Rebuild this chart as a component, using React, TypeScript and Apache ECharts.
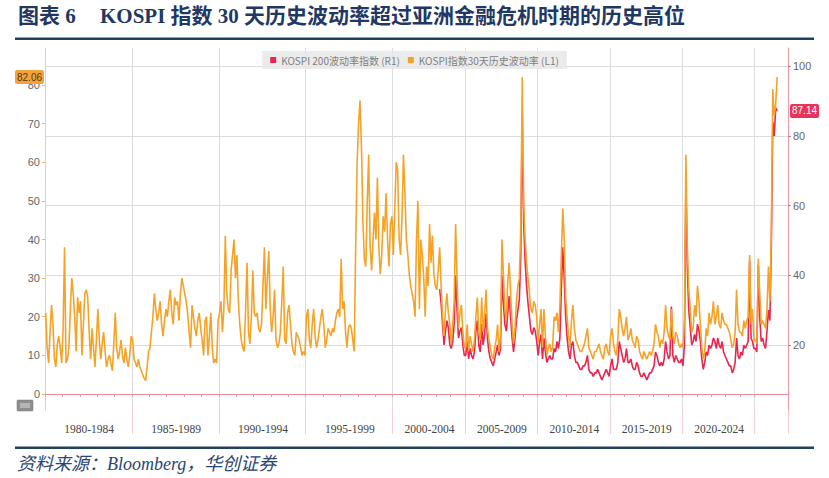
import React, { useEffect, useRef } from 'react';
import * as echarts from 'echarts';

// ---- texts ----
const titleLead = '图表 6';
const titleMain = 'KOSPI 指数 30 天历史波动率超过亚洲金融危机时期的历史高位';
const sourceNote = '资料来源：Bloomberg，华创证券';
const legendNames = ['KOSPI 200波动率指数 (R1)', 'KOSPI指数30天历史波动率 (L1)'];
const periodLabels = ['1980-1984', '1985-1989', '1990-1994', '1995-1999', '2000-2004', '2005-2009', '2010-2014', '2015-2019', '2020-2024'];
const leftAxisTicks = [0, 10, 20, 30, 40, 50, 60, 70, 80];
const rightAxisTicks = [20, 40, 60, 80, 100];

// ---- KOSPI 30-day historical volatility (left axis, L1) ----
// 1980-1999: 12 samples / year (six-day trading weeks), 2000 onward: 10 samples / year
const kospiVol1980s = [
  21, 12, 8, 16, 23, 18, 9, 7, 13, 15, 12, 8,
  17, 38, 8, 9, 12, 22, 30, 26, 20, 11, 25, 21,
  24, 10, 18, 26, 27, 25, 16, 9, 17, 12, 7, 14,
  22, 14, 9, 13, 16, 11, 7, 9, 10, 8, 6, 13,
  21, 12, 9, 11, 14, 10, 8, 12, 9, 7, 10, 15,
  14, 9, 8, 7, 9, 7, 6, 5, 4, 3.5, 7, 11,
  12, 16, 20, 26, 22, 19, 21, 24, 18, 15, 19, 22,
  20, 24, 27, 21, 18, 25, 23, 24, 19, 26, 30, 28,
  26, 24, 21, 16, 12, 23, 20, 17, 15, 19, 21, 17,
  14, 10, 19, 20, 10, 15, 21, 12, 8, 9, 8, 19,
];
const kospiVol1990s = [
  21, 24, 16, 22, 41, 26, 22, 21, 32, 36, 40, 30,
  36, 24, 18, 14, 12, 11, 22, 34, 16, 13, 20, 32,
  21, 20, 21, 17, 16, 18, 28, 38, 22, 30, 37, 22,
  16, 20, 27, 14, 12, 13, 16, 24, 33, 14, 13, 21,
  23, 18, 13, 11, 10, 16, 15, 14, 12, 10, 11, 10,
  20, 22, 14, 12, 18, 22, 15, 12, 14, 17, 20, 22,
  18, 12, 14, 17, 16, 15, 17, 16, 19, 21, 22, 20,
  35, 22, 24, 16, 12, 17, 18, 17, 14, 11, 38, 60,
  70, 76, 64, 45, 35, 33, 50, 62, 38, 32, 40, 47,
  40, 56, 38, 31, 36, 46, 42, 52, 40, 33, 44, 46,
];
const kospiVol2000s = [
  36, 48, 60, 58, 40, 36, 46, 62, 52, 40,
  36, 31, 28, 26, 24, 20, 40, 50, 22, 40,
  36, 30, 20, 33, 28, 44, 34, 41, 31, 28,
  27, 32, 38, 28, 20, 15, 22, 26, 21, 18,
  13, 18, 24, 44, 30, 17, 21, 23, 16, 12,
  12, 18, 11, 15, 13, 11, 14, 20, 25, 16,
  14, 25, 16, 20, 27, 17, 14, 12, 10, 9,
  12, 14, 18, 11, 15, 40, 31, 22, 19, 29,
  34, 26, 18, 13, 17, 24, 28, 30, 43, 82,
  50, 40, 34, 30, 26, 22, 21, 24, 23, 20,
];
const kospiVol2010s = [
  13, 18, 22, 12, 22, 15, 10, 12, 13, 11,
  12, 20, 19, 21, 16, 23, 36, 48, 40, 25,
  20, 15, 12, 19, 23, 17, 14, 13, 12, 11,
  11, 12, 13, 15, 17, 12, 11, 10, 9, 11,
  11, 12, 13, 11, 10, 9, 12, 13, 11, 10,
  15, 17, 13, 11, 10, 14, 22, 20, 17, 15,
  17, 20, 14, 15, 17, 14, 13, 12, 15, 14,
  11, 10, 9, 11, 10, 9, 10, 11, 10, 11,
  13, 18, 16, 15, 12, 14, 13, 16, 23, 17,
  15, 14, 22, 15, 13, 16, 15, 13, 12, 13,
];
const kospiVol2020s = [
  12, 19, 62, 38, 27, 22, 16, 17, 23, 20,
  28, 24, 18, 12, 9, 11, 17, 15, 21, 18,
  20, 24, 18, 20, 23, 18, 17, 21, 19, 18,
  18, 17, 16, 14, 12, 13, 16, 27, 18, 16,
  16, 15, 19, 17, 19, 20, 36, 18, 22, 14,
];
const kospiVol2025on = [14, 13, 35, 26, 18, 19, 18, 17, 22, 33, 24, 42, 79, 72, 75, 82.06];

// ---- KOSPI 200 volatility index (right axis, R1), from 2003 ----
const vkospi2003to2009 = [
  null, null, 36, 32, 26, 20, 24, 27, 25, 20,
  19, 21, 26, 40, 30, 22, 24, 25, 20, 17,
  17, 21, 16, 19, 17, 16, 18, 24, 27, 20,
  18, 26, 20, 23, 29, 22, 18, 16, 15, 14,
  16, 18, 20, 17, 19, 40, 32, 26, 24, 29,
  34, 28, 22, 18, 22, 27, 30, 33, 46, 86,
  55, 44, 37, 32, 28, 24, 23, 25, 24, 21,
];
const vkospi2010s = [
  17, 21, 23, 16, 22, 18, 15, 16, 17, 16,
  16, 19, 18, 21, 19, 22, 36, 48, 39, 28,
  22, 18, 16, 20, 21, 17, 15, 15, 14, 13,
  13, 14, 14, 15, 17, 13, 12, 12, 11, 12,
  12, 13, 12, 11, 10, 11, 12, 13, 12, 11,
  14, 16, 13, 13, 13, 15, 21, 19, 17, 15,
  16, 19, 15, 15, 16, 14, 13, 13, 15, 14,
  12, 11, 11, 12, 11, 10, 11, 12, 12, 13,
  14, 18, 17, 15, 14, 15, 14, 16, 21, 18,
  16, 17, 31, 17, 15, 17, 16, 15, 15, 16,
];
const vkospi2020s = [
  14, 20, 66, 42, 30, 25, 20, 21, 23, 21,
  26, 24, 21, 16, 13, 15, 18, 17, 20, 19,
  20, 22, 21, 19, 22, 20, 19, 21, 18, 17,
  16, 15, 14, 14, 12, 13, 15, 22, 17, 16,
  18, 17, 20, 19, 20, 21, 44, 22, 21, 19,
];
const vkospi2025on = [19, 18, 43, 28, 21, 22, 20, 19, 24, 30, 27, 49, 84, 80, 88, 87.14];

// ---- category axis (one slot per sample) ----
const categories: string[] = [];
const yearStart: Record<number, number> = {};
for (let y = 1980; y <= 2024; y++) {
  yearStart[y] = categories.length;
  const n = y < 2000 ? 12 : 10;
  for (let k = 1; k <= n; k++) categories.push(`${y}-${String(k).padStart(2, '0')}`);
}
yearStart[2025] = categories.length;
for (let k = 1; k <= 23; k++) categories.push(`2025+${k}`);

const periodStarts = periodLabels.map((_, i) => yearStart[1980 + 5 * i]);
const periodEnds = periodLabels.map((_, i) => yearStart[1985 + 5 * i]);
const boundarySet = new Set<number>(periodEnds);
const labelAt = new Map<number, string>(periodStarts.map((s, i) => [Math.floor((s + periodEnds[i]) / 2), periodLabels[i]]));
const yearTickSet = new Set<number>(Object.values(yearStart));

const orangeData = [...kospiVol1980s, ...kospiVol1990s, ...kospiVol2000s, ...kospiVol2010s, ...kospiVol2020s, ...kospiVol2025on];
const redData: (number | null)[] = new Array(yearStart[2003]).fill(null).concat(vkospi2003to2009, vkospi2010s, vkospi2020s, vkospi2025on);
const lastOrange = kospiVol2025on[kospiVol2025on.length - 1];
const lastRed = vkospi2025on[vkospi2025on.length - 1];

const ORANGE = '#f5a328';
const RED = '#e8264f';
const NAVY = '#1f3864';

export default function App() {
  const ref = useRef<HTMLDivElement>(null);
  useEffect(() => {
    if (!ref.current) return;
    const chart = echarts.init(ref.current, null, { renderer: 'svg' });
    chart.setOption({
      animation: false,
      backgroundColor: '#ffffff',
      textStyle: { fontFamily: '"Liberation Sans", "Noto Sans CJK SC", sans-serif' },
      grid: { left: 45, right: 41, top: 48, bottom: 68, containLabel: false },
      legend: {
        data: legendNames,
        top: 51,
        left: 'center',
        icon: 'rect',
        itemWidth: 6,
        itemHeight: 6,
        itemGap: 8,
        padding: [4, 8],
        backgroundColor: 'rgba(232,232,232,0.85)',
        textStyle: { fontSize: 10, color: '#808080', fontFamily: '"Noto Sans CJK SC", sans-serif' },
      },
      xAxis: [
        {
          type: 'category',
          data: categories,
          boundaryGap: true,
          position: 'bottom',
          axisLine: { show: true, lineStyle: { color: '#ea8a99', width: 1 } },
          axisTick: { show: true, interval: (i: number) => yearTickSet.has(i), length: 3, lineStyle: { color: '#d8a3ab' } },
          axisLabel: {
            show: true,
            interval: (i: number) => labelAt.has(i),
            formatter: (_v: string, i: number) => labelAt.get(i) ?? '',
            margin: 13,
            fontSize: 11.5,
            color: '#444',
            fontFamily: '"Liberation Serif", serif',
          },
          splitLine: { show: true, interval: (i: number) => boundarySet.has(i), lineStyle: { color: '#dcdcdc', width: 1 } },
        },
        {
          type: 'category',
          data: categories,
          boundaryGap: true,
          position: 'bottom',
          axisLine: { show: false },
          axisTick: { show: true, interval: (i: number) => boundarySet.has(i), length: 24, lineStyle: { color: '#f1cfd4' } },
          axisLabel: { show: false },
          splitLine: { show: false },
        },
      ],
      yAxis: [
        {
          type: 'value',
          position: 'left',
          min: -4.15,
          max: 89.6,
          axisLine: { show: true, lineStyle: { color: '#f6cf8c' } },
          axisTick: { show: true, customValues: leftAxisTicks, length: 3, lineStyle: { color: '#f0b860' } },
          axisLabel: { customValues: leftAxisTicks, color: '#666', fontSize: 11, margin: 5 },
          splitLine: { show: false },
          axisPointer: {
            show: true,
            type: 'line',
            value: lastOrange,
            status: 'show',
            triggerTooltip: false,
            lineStyle: { opacity: 0, width: 0 },
            label: {
              show: true,
              formatter: (p: any) => Number(p.value).toFixed(2),
              backgroundColor: '#f2a33a',
              color: '#5a3a10',
              fontSize: 10,
              padding: [2, 2, 2, 2],
              borderRadius: 2,
              margin: 1,
            },
          },
        },
        {
          type: 'value',
          position: 'right',
          min: 1.35,
          max: 105.2,
          axisLine: { show: true, lineStyle: { color: '#ec9aa8' } },
          axisTick: { show: true, customValues: rightAxisTicks, length: 3, lineStyle: { color: '#e0707f' } },
          axisLabel: { customValues: rightAxisTicks, color: '#666', fontSize: 11, margin: 5 },
          splitLine: { show: true, lineStyle: { color: '#dcdcdc', width: 1 } },
          axisPointer: {
            show: true,
            type: 'line',
            value: lastRed,
            status: 'show',
            triggerTooltip: false,
            lineStyle: { opacity: 0, width: 0 },
            label: {
              show: true,
              formatter: (p: any) => Number(p.value).toFixed(2),
              backgroundColor: '#e8335a',
              color: '#ffffff',
              fontSize: 10,
              padding: [2, 2, 2, 2],
              borderRadius: 2,
              margin: 2,
            },
          },
        },
      ],
      series: [
        {
          name: legendNames[0],
          type: 'line',
          xAxisIndex: 0,
          yAxisIndex: 1,
          data: redData,
          showSymbol: false,
          symbol: 'none',
          connectNulls: false,
          lineStyle: { color: RED, width: 1.6 },
          itemStyle: { color: RED },
          z: 2,
          silent: true,
        },
        {
          name: legendNames[1],
          type: 'line',
          xAxisIndex: 0,
          yAxisIndex: 0,
          data: orangeData,
          showSymbol: false,
          symbol: 'none',
          lineStyle: { color: ORANGE, width: 1.6 },
          itemStyle: { color: ORANGE },
          z: 3,
          silent: true,
        },
      ],
      graphic: [
        {
          type: 'text',
          x: 18,
          y: 16,
          style: { text: titleLead, fill: NAVY, font: 'bold 21px "Liberation Serif", "Noto Sans CJK SC", serif', verticalAlign: 'middle' },
        },
        {
          type: 'text',
          x: 100,
          y: 16,
          style: { text: titleMain, fill: NAVY, font: 'bold 21px "Liberation Serif", "Noto Sans CJK SC", serif', verticalAlign: 'middle' },
        },
        { type: 'rect', shape: { x: 15, y: 37.5, width: 799, height: 2.5 }, style: { fill: '#22405f' } },
        { type: 'rect', shape: { x: 15, y: 446.5, width: 799, height: 2.5 }, style: { fill: '#22405f' } },
        {
          type: 'text',
          x: 17,
          y: 464,
          style: { text: sourceNote, fill: '#2a4670', font: 'italic 18px "Liberation Serif", "Noto Sans CJK SC", serif', verticalAlign: 'middle' },
        },
        { type: 'rect', shape: { x: 17, y: 400, width: 16, height: 11, r: 1 }, style: { fill: '#8e8e8e', stroke: '#777', lineWidth: 0.5 } },
        { type: 'rect', shape: { x: 20, y: 403, width: 10, height: 5 }, style: { fill: '#b5b5b5' } },
      ],
    });
    return () => chart.dispose();
  }, []);
  return <div ref={ref} style={{ position: 'fixed', left: 0, top: 0, width: 829, height: 478 }} />;
}
